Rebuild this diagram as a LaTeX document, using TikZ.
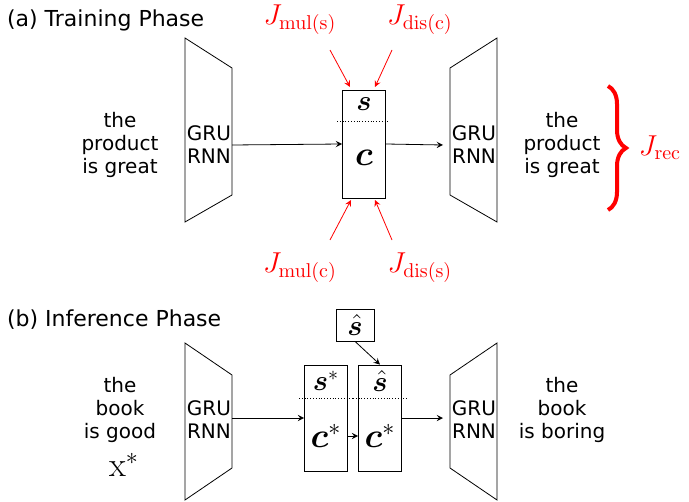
\documentclass[tikz,border=0pt]{standalone}
\usepackage{amsmath,bm}
\usepackage[no-math]{fontspec}
\setmainfont{DejaVu Sans}
\usetikzlibrary{decorations.pathreplacing}
\tikzset{
  txt/.style={align=center,font=\fontsize{10}{11.5}\selectfont},
  lat/.style={rectangle,draw,minimum width=21.5pt,inner sep=0pt},
  jlab/.style={text=red,font=\fontsize{14}{16}\selectfont},
  jarr/.style={red,-stealth},
  arr/.style={-stealth},
}
\begin{document}
\begin{tikzpicture}[x=0.5pt,y=-0.5pt]
	\useasboundingbox (0,0) rectangle (689,502);
	% (a) training
	\node[anchor=west,font=\fontsize{11}{13}\selectfont] (ta) at (0,20) {(a) Training Phase};
	\draw (185,38) -- (232,68) -- (232,195) -- (185,222) -- cycle;
	\node[txt] (encA) at (209,145) {GRU\\RNN};
	\node[txt] (inA) at (120,145) {the\\product\\is great};
	\draw (450,68) -- (497,38) -- (497,222) -- (450,195) -- cycle;
	\node[txt] (decA) at (474,145) {GRU\\RNN};
	\node[txt] (outA) at (562,145) {the\\product\\is great};
	\node[lat,minimum height=54pt] (boxA) at (364,144) {};
	\draw[densely dotted] (337,121) -- (390,121);
	\node[font=\Large] (sA) at (364,104) {$\bm{s}$};
	\node[font=\LARGE] (cA) at (364,158) {$\bm{c}$};
	\coordinate (encAr) at (232,145);
	\coordinate (decAl) at (443,145);
	\draw[arr] (encAr) -- (boxA.west);
	\draw[arr] (boxA.east) -- (decAl);
	\node[jlab] (jms) at (300,20) {$J_{\mathrm{mul(s)}}$};
	\node[jlab] (jdc) at (420,20) {$J_{\mathrm{dis(c)}}$};
	\node[jlab] (jmc) at (300,268) {$J_{\mathrm{mul(c)}}$};
	\node[jlab] (jds) at (420,268) {$J_{\mathrm{dis(s)}}$};
	\draw[jarr] (330,50) -- (350,87);
	\draw[jarr] (392,50) -- (375,87);
	\draw[jarr] (330,240) -- (351,200);
	\draw[jarr] (392,240) -- (375,200);
	\draw[red,line width=2pt,decorate,decoration={brace,amplitude=9pt}] (608,86) -- (608,210);
	\node[jlab] (jrec) at (660,148) {$J_{\mathrm{rec}}$};
	% (b) inference
	\node[anchor=west,font=\fontsize{11}{13}\selectfont] (tb) at (0,320) {(b) Inference Phase};
	\draw (185,343) -- (232,375) -- (232,468) -- (185,500) -- cycle;
	\node[txt] (encB) at (209,420) {GRU\\RNN};
	\node[txt] (inB) at (120,410) {the\\book\\is good};
	\node[font=\LARGE] (xs) at (124,465) {$\mathrm{x}^{*}$};
	\draw (450,375) -- (497,343) -- (497,500) -- (450,468) -- cycle;
	\node[txt] (decB) at (474,420) {GRU\\RNN};
	\node[txt] (outB) at (562,410) {the\\book\\is boring};
	\node[lat,minimum height=53pt] (boxB) at (326,418) {};
	\node[lat,minimum height=53pt] (boxC) at (380,418) {};
	\draw[densely dotted] (299,398) -- (353,398);
	\draw[densely dotted] (353,398) -- (407,398);
	\node[font=\Large] (sB) at (326,381) {$\bm{s}^{*}$};
	\node[font=\LARGE] (cB) at (326,436) {$\bm{c}^{*}$};
	\node[font=\Large] (sC) at (380,381) {$\hat{\bm{s}}$};
	\node[font=\LARGE] (cC) at (380,436) {$\bm{c}^{*}$};
	\node[draw,font=\Large,minimum width=19pt,minimum height=16pt,inner sep=1pt] (sh) at (355,325) {$\hat{\bm{s}}$};
	\coordinate (encBr) at (232,418);
	\coordinate (decBl) at (443,418);
	\draw[arr] (encBr) -- (boxB.west);
	\draw[arr] (boxB.east |- cB) -- (boxC.west |- cC);
	\draw[arr] (sh.south) -- (boxC.north);
	\draw[arr] (boxC.east) -- (decBl);
\end{tikzpicture}
\end{document}
